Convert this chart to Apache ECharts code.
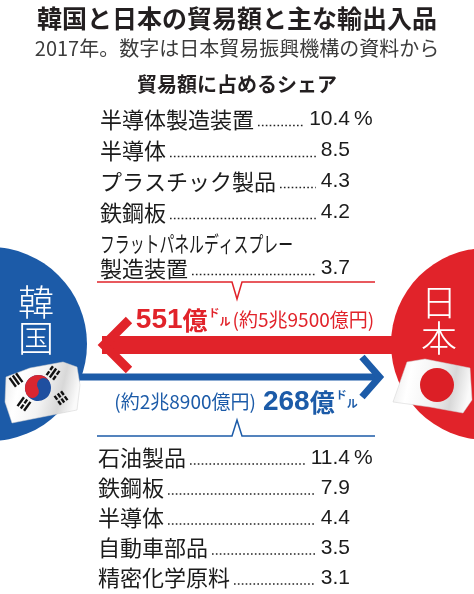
<!DOCTYPE html>
<html><head><meta charset="utf-8">
<script src="https://cdn.jsdelivr.net/npm/echarts@6/dist/echarts.min.js"></script>
<style>html,body{margin:0;padding:0;background:#fff}#c{width:474px;height:594px}</style>
</head><body><div id="c"></div>
<script>
// ---------- data ----------
const titleText = '韓国と日本の貿易額と主な輸出入品';
const subtitleText = '2017年。数字は日本貿易振興機構の資料から';
const shareHeader = '貿易額に占めるシェア';
const countries = ['韓国', '日本'];
// Japan -> Korea (upper list)
const exportItems = ['半導体製造装置', '半導体', 'プラスチック製品', '鉄鋼板', 'フラットパネルディスプレー\n製造装置'];
const exportShares = [10.4, 8.5, 4.3, 4.2, 3.7];
// Korea -> Japan (lower list)
const importItems = ['石油製品', '鉄鋼板', '半導体', '自動車部品', '精密化学原料'];
const importShares = [11.4, 7.9, 4.4, 3.5, 3.1];
// trade amounts: [Japan->Korea, Korea->Japan]
const tradeUsdOku = [551, 268];        // 億ドル
const tradeYenOku = ['5兆9500', '2兆8900']; // 億円
const percentUnit = '%';

// ---------- style ----------
const RED = '#e1232a', BLUE = '#1c5ba8', INK = '#1b1b1b';
const FONT_CJK = "'Noto Sans CJK JP', 'Noto Sans', sans-serif";
const FONT_NUM = "'Liberation Sans', Arial, sans-serif";
const LABEL_SIZE = 22, VALUE_SIZE = 21, LINE_GAP = 25, MAX_LABEL_W = 193;

const mctx = document.createElement('canvas').getContext('2d');
function textWidth(t, size, fam, weight) {
  mctx.font = (weight || 'normal') + ' ' + size + 'px ' + fam;
  return mctx.measureText(t).width;
}

function listRenderer(items, labelX, valueRight) {
  return function (params, api) {
    const share = api.value(0);
    const idx = api.value(1);
    const yc = api.coord([0, idx])[1];
    const lines = items[idx].split('\n');
    const children = [];
    let endX = labelX, y = yc;
    lines.forEach(function (ln, k) {
      y = yc + k * LINE_GAP;
      const w = textWidth(ln, LABEL_SIZE, FONT_CJK);
      const sx = Math.min(1, MAX_LABEL_W / w);
      children.push({
        type: 'text', x: labelX, y: y, scaleX: sx,
        style: { text: ln, x: 0, y: 0, fill: INK, fontSize: LABEL_SIZE, fontFamily: FONT_CJK,
                 align: 'left', verticalAlign: 'middle' }
      });
      endX = labelX + w * sx;
    });
    const vText = share.toFixed(1);
    const vw = textWidth(vText, VALUE_SIZE, FONT_NUM);
    children.push({
      type: 'line',
      shape: { x1: endX + 4, y1: y + 6, x2: valueRight - vw - 5, y2: y + 6 },
      style: { stroke: '#222', lineWidth: 1.7, lineDash: [1.6, 2.3] }
    });
    children.push({
      type: 'text', x: valueRight, y: y,
      style: { text: vText, fill: INK, fontSize: VALUE_SIZE, fontFamily: FONT_NUM,
               align: 'right', verticalAlign: 'middle' }
    });
    if (idx === 0) {
      children.push({
        type: 'text', x: valueRight + 4, y: y,
        style: { text: percentUnit, fill: INK, fontSize: VALUE_SIZE, fontFamily: FONT_NUM,
                 align: 'left', verticalAlign: 'middle' }
      });
    }
    return { type: 'group', children: children };
  };
}

function trigram(cx, cy, rot, pattern) {
  const kids = [];
  const W = 11, H = 2.4, G = 1.6;
  pattern.forEach(function (solid, i) {
    const yy = -((H + G) * 3 - G) / 2 + i * (H + G);
    if (solid) kids.push({ type: 'rect', z: 7, shape: { x: -W / 2, y: yy, width: W, height: H }, style: { fill: '#111' } });
    else {
      kids.push({ type: 'rect', z: 7, shape: { x: -W / 2, y: yy, width: W / 2 - 0.8, height: H }, style: { fill: '#111' } });
      kids.push({ type: 'rect', z: 7, shape: { x: 0.8, y: yy, width: W / 2 - 0.8, height: H }, style: { fill: '#111' } });
    }
  });
  return { type: 'group', x: cx, y: cy, rotation: rot, children: kids, z: 7 };
}

const flagGrad = function () {
  return new echarts.graphic.LinearGradient(0, 0, 1, 0.3, [
    { offset: 0, color: '#e9e9e9' }, { offset: 0.25, color: '#ffffff' },
    { offset: 0.55, color: '#f3f3f3' }, { offset: 0.8, color: '#d8d8d8' }, { offset: 1, color: '#fafafa' }
  ]);
};

const richRed = {
  n: { fontSize: 28, fontWeight: 'bold', fontFamily: FONT_NUM, fill: RED, lineHeight: 30, verticalAlign: 'middle' },
  o: { fontSize: 25, fontWeight: 'bold', fontFamily: FONT_CJK, fill: RED, lineHeight: 30, verticalAlign: 'middle' },
  d: { fontSize: 11, fontWeight: 'bold', fontFamily: FONT_CJK, fill: RED, lineHeight: 12, verticalAlign: 'top', padding: [2, 0, 0, 1] },
  l: { fontSize: 11, fontWeight: 'bold', fontFamily: FONT_CJK, fill: RED, lineHeight: 12, verticalAlign: 'top', padding: [11, 0, 0, 0] },
  y: { fontSize: 19, fontFamily: FONT_CJK, fill: RED, lineHeight: 24, verticalAlign: 'middle', padding: [0, 0, 0, 2] }
};
const richBlue = {};
Object.keys(richRed).forEach(function (k) { richBlue[k] = Object.assign({}, richRed[k], { fill: BLUE }); });
richBlue.n = Object.assign({}, richBlue.n, { padding: [0, 0, 0, 7] });
richBlue.y = Object.assign({}, richBlue.y, { padding: [0, 0, 0, 0] });

const chart = echarts.init(document.getElementById('c'));
chart.setOption({
  animation: false,
  backgroundColor: '#ffffff',
  title: [
    { text: titleText, left: 'center', top: 4, padding: 0,
      textStyle: { fontSize: 25, fontWeight: 'bold', fontFamily: FONT_CJK, color: '#231f20', lineHeight: 28 } },
    { text: subtitleText, left: 'center', top: 36, padding: 0,
      textStyle: { fontSize: 20, fontWeight: 'normal', fontFamily: FONT_CJK, color: '#3c3c3c', lineHeight: 24 } },
    { text: shareHeader, left: 'center', top: 72, padding: 0,
      textStyle: { fontSize: 20, fontWeight: 'bold', fontFamily: FONT_CJK, color: '#231f20', lineHeight: 24 } }
  ],
  grid: [
    { left: 0, right: 0, top: 104, height: 155 },
    { left: 0, right: 0, top: 443, height: 150 }
  ],
  xAxis: [
    { gridIndex: 0, type: 'value', min: 0, max: 474, show: false },
    { gridIndex: 1, type: 'value', min: 0, max: 474, show: false }
  ],
  yAxis: [
    { gridIndex: 0, type: 'category', data: exportItems, inverse: true, show: false },
    { gridIndex: 1, type: 'category', data: importItems, inverse: true, show: false }
  ],
  series: [
    { type: 'custom', xAxisIndex: 0, yAxisIndex: 0, silent: true, z: 5,
      data: exportShares.map(function (v, i) { return [v, i]; }),
      renderItem: listRenderer(exportItems, 100, 350) },
    { type: 'custom', xAxisIndex: 1, yAxisIndex: 1, silent: true, z: 5,
      data: importShares.map(function (v, i) { return [v, i]; }),
      renderItem: listRenderer(importItems, 98, 350) }
  ],
  graphic: [
    // country discs
    { type: 'circle', shape: { cx: -10, cy: 344, r: 97 }, style: { fill: BLUE }, z: 1 },
    { type: 'circle', shape: { cx: 487, cy: 344, r: 96 }, style: { fill: RED }, z: 1 },
    // red arrow (Japan -> Korea)
    { type: 'rect', shape: { x: 102, y: 336, width: 330, height: 18 }, style: { fill: RED }, z: 2 },
    { type: 'polyline', shape: { points: [[129, 320], [104, 345], [129, 370]] },
      style: { stroke: RED, lineWidth: 9, fill: null, lineJoin: 'miter' }, z: 2 },
    // blue arrow (Korea -> Japan)
    { type: 'rect', shape: { x: 80, y: 373.5, width: 297, height: 7 }, style: { fill: BLUE }, z: 2 },
    { type: 'polyline', shape: { points: [[362, 357], [379.5, 377], [362, 397]] },
      style: { stroke: BLUE, lineWidth: 7, fill: null, lineJoin: 'miter' }, z: 2 },
    // brackets
    { type: 'polyline', shape: { points: [[97, 282], [232, 282], [237, 299], [242, 282], [375, 282]] },
      style: { stroke: RED, lineWidth: 1.5, fill: null }, z: 2 },
    { type: 'polyline', shape: { points: [[97, 436], [232, 436], [237, 420], [242, 436], [375, 436]] },
      style: { stroke: BLUE, lineWidth: 1.5, fill: null }, z: 2 },
    // trade labels
    { type: 'text', x: 255, y: 320, z: 3,
      style: { text: '{n|' + tradeUsdOku[0] + '}{o|億}{d|ド}{l|ル}{y|(約' + tradeYenOku[0] + '億円)}',
               align: 'center', verticalAlign: 'middle', rich: richRed } },
    { type: 'text', x: 236, y: 402, z: 3,
      style: { text: '{y|(約' + tradeYenOku[1] + '億円)}{n|' + tradeUsdOku[1] + '}{o|億}{d|ド}{l|ル}',
               align: 'center', verticalAlign: 'middle', rich: richBlue } },
    // country names
    { type: 'text', x: 36, y: 320, z: 4,
      style: { text: countries[0].split('').join('\n'), fill: '#fff', fontSize: 36, fontWeight: 300,
               fontFamily: FONT_CJK, lineHeight: 36, align: 'center', verticalAlign: 'middle' } },
    { type: 'text', x: 439, y: 320, z: 4,
      style: { text: countries[1].split('').join('\n'), fill: '#fff', fontSize: 36, fontWeight: 300,
               fontFamily: FONT_CJK, lineHeight: 36, align: 'center', verticalAlign: 'middle' } },
    // Korean flag
    { type: 'polygon', z: 5,
      shape: { points: [[6, 377], [30, 368], [63, 362], [77, 367], [80, 385], [77, 410], [42, 417], [12, 423], [5, 402]] },
      style: { fill: flagGrad(), stroke: '#d0d0d0', lineWidth: 0.5 } },
    { type: 'group', x: 38, y: 388, rotation: 0.55, z: 7, children: [
      { type: 'circle', z: 7, shape: { cx: 0, cy: 0, r: 13 }, style: { fill: '#1f4fa0' } },
      { type: 'sector', z: 7, shape: { cx: 0, cy: 0, r: 13, r0: 0, startAngle: Math.PI, endAngle: 2 * Math.PI }, style: { fill: '#d92630' } },
      { type: 'circle', z: 7, shape: { cx: -6.5, cy: 0, r: 6.5 }, style: { fill: '#d92630' } },
      { type: 'circle', z: 7, shape: { cx: 6.5, cy: 0, r: 6.5 }, style: { fill: '#1f4fa0' } }
    ] },
    trigram(16, 380, -0.95, [1, 1, 1]),
    trigram(53, 373, 0.95, [0, 1, 0]),
    trigram(24, 404, 0.95, [1, 0, 1]),
    trigram(61, 398, -0.95, [0, 0, 0]),
    // Japanese flag
    { type: 'polygon', z: 5,
      shape: { points: [[407, 362], [425, 359], [450, 364], [470, 368], [472, 400], [463, 413], [430, 407], [393, 402], [399, 385]] },
      style: { fill: flagGrad(), stroke: '#d0d0d0', lineWidth: 0.5 } },
    { type: 'circle', shape: { cx: 437, cy: 385, r: 17 }, style: { fill: '#dc1f26' }, z: 6 }
  ]
});
</script></body></html>
